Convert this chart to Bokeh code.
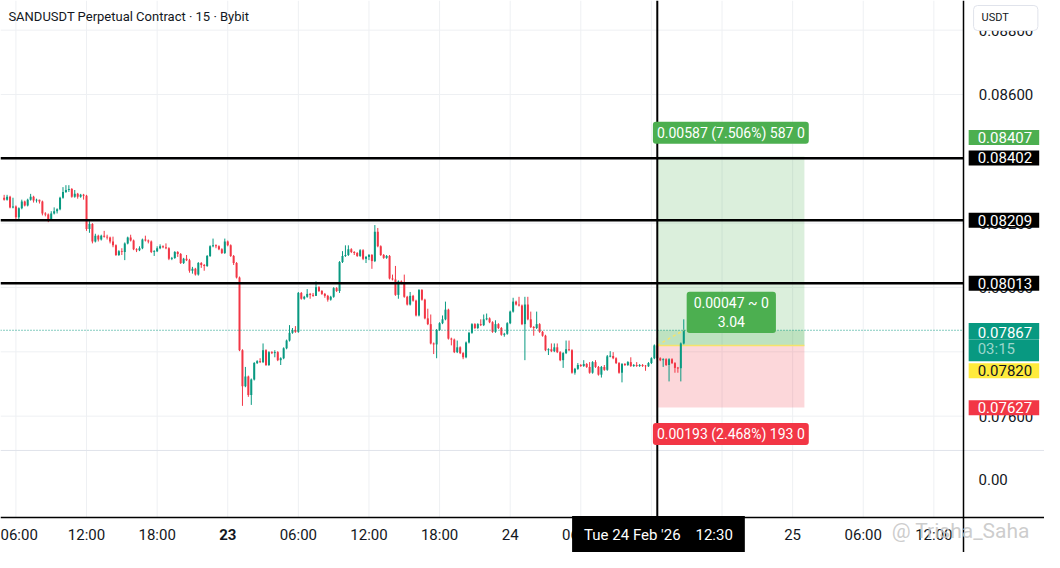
from bokeh.plotting import figure
from bokeh.models import Range1d, FixedTicker, Label, NumeralTickFormatter, LinearAxis
from bokeh.embed import file_html
from bokeh.resources import INLINE

# ---------------- data ----------------
title_text = "SANDUSDT Perpetual Contract · 15 · Bybit"
first_hour = 5.0          # 22 Feb 05:00, hours since 22 Feb 00:00
bar_hours = 0.25          # 15-minute candles
first_open = 0.08279

close = [0.08273,0.08282,0.08249,0.08252,0.08218,0.08246,0.08267,0.08255,0.08273,0.08282,
0.08270,0.08273,0.08267,0.08230,0.08227,0.08212,0.08230,0.08237,0.08243,0.08279,
0.08297,0.08303,0.08306,0.08282,0.08291,0.08282,0.08288,0.08285,0.08182,0.08197,
0.08143,0.08161,0.08149,0.08161,0.08158,0.08155,0.08143,0.08131,0.08101,0.08113,
0.08110,0.08137,0.08155,0.08146,0.08119,0.08116,0.08122,0.08149,0.08146,0.08143,
0.08110,0.08113,0.08122,0.08128,0.08125,0.08122,0.08089,0.08092,0.08110,0.08104,
0.08076,0.08089,0.08085,0.08052,0.08058,0.08040,0.08076,0.08070,0.08067,0.08098,
0.08128,0.08131,0.08128,0.08119,0.08107,0.08143,0.08131,0.08098,0.08076,0.08031,
0.07805,0.07693,0.07723,0.07666,0.07714,0.07765,0.07771,0.07768,0.07805,0.07759,
0.07799,0.07796,0.07799,0.07774,0.07780,0.07811,0.07835,0.07859,0.07868,0.07862,
0.07983,0.07965,0.07971,0.07980,0.07977,0.07974,0.08001,0.07989,0.07980,0.07974,
0.07962,0.07971,0.07998,0.07989,0.08079,0.08098,0.08101,0.08119,0.08110,0.08107,
0.08098,0.08116,0.08089,0.08095,0.08101,0.08082,0.08173,0.08128,0.08101,0.08092,
0.08098,0.08028,0.08025,0.07977,0.08019,0.08013,0.07971,0.07947,0.07974,0.07959,
0.07913,0.07992,0.07962,0.07904,0.07886,0.07826,0.07823,0.07868,0.07889,0.07901,
0.07931,0.07841,0.07838,0.07799,0.07814,0.07796,0.07783,0.07829,0.07859,0.07886,
0.07874,0.07886,0.07883,0.07901,0.07904,0.07892,0.07862,0.07886,0.07874,0.07853,
0.07856,0.07889,0.07925,0.07956,0.07947,0.07944,0.07886,0.07947,0.07901,0.07877,
0.07874,0.07886,0.07862,0.07850,0.07805,0.07808,0.07802,0.07814,0.07799,0.07774,
0.07796,0.07808,0.07805,0.07735,0.07747,0.07759,0.07756,0.07762,0.07753,0.07735,
0.07768,0.07753,0.07729,0.07753,0.07744,0.07786,0.07787,0.07780,0.07765,0.07735,
0.07762,0.07759,0.07768,0.07756,0.07759,0.07756,0.07759,0.07756,0.07755,0.07765,
0.07780,0.07820,0.07780,0.07774,0.07777,0.07759,0.07777,0.07765,0.07750,0.07749,
0.07826,0.07867]

high = [0.08288,0.08288,0.08285,0.08279,0.08255,0.08249,0.08273,0.08270,0.08276,0.08291,
0.08285,0.08276,0.08273,0.08270,0.08234,0.08230,0.08237,0.08249,0.08246,0.08282,
0.08312,0.08318,0.08318,0.08309,0.08303,0.08294,0.08291,0.08291,0.08288,0.08206,
0.08200,0.08167,0.08164,0.08164,0.08176,0.08164,0.08158,0.08158,0.08134,0.08116,
0.08122,0.08140,0.08158,0.08164,0.08149,0.08122,0.08128,0.08152,0.08161,0.08149,
0.08146,0.08116,0.08128,0.08134,0.08131,0.08137,0.08125,0.08095,0.08113,0.08113,
0.08107,0.08092,0.08101,0.08089,0.08064,0.08061,0.08079,0.08079,0.08073,0.08101,
0.08131,0.08152,0.08134,0.08131,0.08122,0.08152,0.08146,0.08134,0.08101,0.08079,
0.08034,0.07808,0.07753,0.07726,0.07717,0.07768,0.07774,0.07780,0.07826,0.07808,
0.07802,0.07802,0.07805,0.07802,0.07783,0.07814,0.07838,0.07883,0.07874,0.07880,
0.07986,0.07986,0.07974,0.07995,0.07983,0.07983,0.08019,0.08004,0.07992,0.07983,
0.07977,0.07974,0.08001,0.08001,0.08082,0.08113,0.08131,0.08131,0.08122,0.08113,
0.08110,0.08119,0.08119,0.08098,0.08104,0.08104,0.08194,0.08185,0.08131,0.08104,
0.08101,0.08101,0.08040,0.08067,0.08022,0.08022,0.08040,0.07974,0.07986,0.07977,
0.07962,0.07995,0.07995,0.07965,0.07934,0.07916,0.07829,0.07871,0.07892,0.07913,
0.07956,0.07934,0.07844,0.07841,0.07835,0.07817,0.07799,0.07832,0.07862,0.07889,
0.07889,0.07889,0.07901,0.07916,0.07919,0.07907,0.07895,0.07898,0.07889,0.07877,
0.07859,0.07892,0.07928,0.07968,0.07959,0.07971,0.07947,0.07971,0.07971,0.07925,
0.07880,0.07925,0.07889,0.07865,0.07853,0.07811,0.07826,0.07826,0.07826,0.07802,
0.07799,0.07835,0.07835,0.07808,0.07750,0.07765,0.07762,0.07774,0.07765,0.07768,
0.07771,0.07774,0.07756,0.07756,0.07759,0.07790,0.07802,0.07799,0.07783,0.07768,
0.07765,0.07765,0.07771,0.07783,0.07762,0.07768,0.07762,0.07762,0.07759,0.07768,
0.07783,0.07823,0.07844,0.07783,0.07780,0.07780,0.07780,0.07780,0.07768,0.07753,
0.07829,0.07901]

low = [0.08270,0.08270,0.08246,0.08246,0.08209,0.08212,0.08243,0.08252,0.08252,0.08270,
0.08264,0.08264,0.08261,0.08224,0.08221,0.08203,0.08209,0.08227,0.08230,0.08240,
0.08276,0.08294,0.08297,0.08279,0.08279,0.08276,0.08279,0.08273,0.08176,0.08170,
0.08137,0.08140,0.08143,0.08146,0.08155,0.08149,0.08137,0.08125,0.08098,0.08098,
0.08101,0.08085,0.08134,0.08143,0.08116,0.08110,0.08113,0.08119,0.08143,0.08137,
0.08107,0.08098,0.08110,0.08119,0.08122,0.08119,0.08085,0.08085,0.08089,0.08095,
0.08073,0.08073,0.08082,0.08046,0.08043,0.08037,0.08037,0.08061,0.08052,0.08064,
0.08095,0.08125,0.08122,0.08116,0.08104,0.08104,0.08128,0.08095,0.08070,0.08028,
0.07802,0.07632,0.07690,0.07660,0.07635,0.07711,0.07762,0.07765,0.07765,0.07756,
0.07756,0.07793,0.07783,0.07771,0.07759,0.07777,0.07808,0.07832,0.07856,0.07859,
0.07859,0.07962,0.07962,0.07968,0.07965,0.07971,0.07974,0.07986,0.07977,0.07968,
0.07956,0.07959,0.07968,0.07986,0.07983,0.08076,0.08095,0.08098,0.08107,0.08101,
0.08095,0.08095,0.08085,0.08076,0.08085,0.08058,0.08079,0.08125,0.08098,0.08089,
0.08089,0.08025,0.08022,0.07974,0.07965,0.08010,0.07968,0.07944,0.07944,0.07956,
0.07910,0.07910,0.07959,0.07901,0.07883,0.07823,0.07793,0.07780,0.07865,0.07886,
0.07898,0.07838,0.07820,0.07796,0.07796,0.07793,0.07777,0.07780,0.07826,0.07856,
0.07871,0.07871,0.07880,0.07880,0.07898,0.07889,0.07859,0.07859,0.07871,0.07850,
0.07847,0.07853,0.07886,0.07922,0.07944,0.07941,0.07883,0.07774,0.07898,0.07874,
0.07850,0.07871,0.07859,0.07847,0.07802,0.07790,0.07799,0.07799,0.07796,0.07771,
0.07750,0.07793,0.07802,0.07732,0.07729,0.07744,0.07753,0.07753,0.07750,0.07732,
0.07732,0.07750,0.07726,0.07720,0.07741,0.07741,0.07783,0.07777,0.07762,0.07732,
0.07705,0.07756,0.07756,0.07753,0.07753,0.07753,0.07753,0.07753,0.07741,0.07753,
0.07762,0.07777,0.07777,0.07771,0.07753,0.07756,0.07708,0.07762,0.07735,0.07735,
0.07708,0.07823]

drawn_levels = [0.08402, 0.08209, 0.08013]
last_price = 0.07867
countdown = "03:15"
entry_price = 0.07820
target_price = 0.08407
stop_price = 0.07627
tool_start = 60.5      # 24 Feb 12:30
tool_end = 73.0        # 25 Feb 01:00
crosshair_hour = 60.5
crosshair_date = "Tue 24 Feb '26"
crosshair_time = "12:30"
target_text = "0.00587 (7.506%) 587 0"
stop_text = "0.00193 (2.468%) 193 0"
open_pl_text = "0.00047 ~ 0\n3.04"
lower_pane_value = "0.00"
currency = "USDT"
watermark = "@ Trisha_Saha"

time_ticks = [6, 12, 18, 24, 30, 36, 42, 48, 54, 60, 66, 72, 78, 84]
time_labels = ["06:00", "12:00", "18:00", "23", "06:00", "12:00", "18:00",
               "24", "06:00", "12:00", "18:00", "25", "06:00", "12:00"]
price_ticks = [0.076, 0.078, 0.080, 0.082, 0.084, 0.086, 0.088]

# ---------------- layout ----------------
W, H = 1044, 552
REFW, REFH = 1060.0, 568.0            # reference canvas
X0, XPX = 4.69, 81.85 / 978.0         # hours at ref x=0, hours per ref px
Y1, YPX = 0.088921, 0.016072 / 532.0  # price at ref y=0, price per ref px


def rx(px):   # reference pixel x -> data x
    return X0 + px * XPX


def ry(py):   # reference pixel y -> data y
    return Y1 - py * YPX


AXX = rx(978)     # price axis position
AXY = ry(532)     # time axis position
UP, DOWN = "#089981", "#f23645"
FONT = "Roboto"
TXT = "#131722"
GRID = "#eef0f3"

p = figure(width=W, height=H, output_backend="svg", toolbar_location=None,
           x_range=Range1d(rx(0), rx(REFW)), y_range=Range1d(ry(REFH), ry(0)),
           x_axis_type=None, y_axis_type=None,
           min_border=0, min_border_left=0, min_border_right=0,
           min_border_top=0, min_border_bottom=0)
p.outline_line_color = None
p.background_fill_color = "white"
p.border_fill_color = "white"

# grid lines (pane only)
p.segment(x0=time_ticks, x1=time_ticks, y0=[AXY] * len(time_ticks), y1=[ry(0)] * len(time_ticks),
          line_color=GRID, line_width=1)
p.segment(x0=[rx(0)] * len(price_ticks), x1=[AXX] * len(price_ticks), y0=price_ticks, y1=price_ticks,
          line_color=GRID, line_width=1)
# lower pane separator
p.segment(x0=[rx(0)], x1=[rx(REFW)], y0=[ry(463)], y1=[ry(463)], line_color="#e0e3eb", line_width=1)

# axes drawn at fixed locations
xa = LinearAxis(fixed_location=AXY)
ya = LinearAxis(fixed_location=AXX)
p.add_layout(xa, "below")
p.add_layout(ya, "right")
xa.ticker = FixedTicker(ticks=time_ticks)
ov = {t: l for t, l in zip(time_ticks, time_labels)}
ov[24] = ""
xa.major_label_overrides = ov
ya.ticker = FixedTicker(ticks=price_ticks)
ya.formatter = NumeralTickFormatter(format="0.00000")
for ax in (xa, ya):
    ax.axis_line_color = "black"
    ax.axis_line_width = 1.5
    ax.major_tick_line_color = None
    ax.minor_tick_line_color = None
    ax.major_tick_out = 0
    ax.major_tick_in = 0
    ax.major_label_text_font = FONT
    ax.major_label_text_font_size = "15px"
    ax.major_label_text_color = TXT
xa.major_label_standoff = 8
ya.major_label_standoff = 15

# position tool
p.quad(left=[tool_start], right=[tool_end], bottom=[entry_price], top=[target_price],
       fill_color="#4caf50", fill_alpha=0.2, line_color=None)
p.quad(left=[tool_start], right=[tool_end], bottom=[entry_price], top=[last_price],
       fill_color="#4caf50", fill_alpha=0.2, line_color=None)
p.quad(left=[tool_start], right=[tool_end], bottom=[stop_price], top=[entry_price],
       fill_color="#f23645", fill_alpha=0.2, line_color=None)
p.segment(x0=[tool_start], x1=[tool_end], y0=[entry_price], y1=[entry_price],
          line_color="#f5e36a", line_width=1.5)

# candles
n = len(close)
t = [first_hour + bar_hours * i for i in range(n)]
opn = [first_open] + close[:-1]
cols = [UP if c >= o else DOWN for o, c in zip(opn, close)]
tops = [max(o, c) for o, c in zip(opn, close)]
bots = [min(o, c) for o, c in zip(opn, close)]
tops = [tp if tp - b > 0.00002 else tp + 0.00001 for tp, b in zip(tops, bots)]
bots = [b if tp - b > 0.00002 else b - 0.00001 for tp, b in zip(tops, bots)]
p.segment(x0=t, y0=low, x1=t, y1=high, line_color=cols, line_width=1)
p.vbar(x=t, width=0.17, top=tops, bottom=bots, fill_color=cols, line_color=None)

# trade path
p.line([tool_start, t[-1]], [entry_price, last_price], line_color="#f5e36a",
       line_width=1.5, line_dash="3 3")

# drawn levels, last price, crosshair
nl = len(drawn_levels)
p.segment(x0=[rx(0)] * nl, x1=[AXX] * nl, y0=drawn_levels, y1=drawn_levels,
          line_color="black", line_width=2.5)
p.segment(x0=[rx(0)], x1=[AXX], y0=[last_price], y1=[last_price],
          line_color=UP, line_width=1, line_dash="1 2")
p.segment(x0=[crosshair_hour], x1=[crosshair_hour], y0=[AXY], y1=[ry(0)],
          line_color="black", line_width=2)


def tag(text, x, y, bg, fg="white", align="left", size="15px", pad=(9, 7, 2, 2),
        radius=0, style="normal", border=None, alpha=1.0):
    lab = Label(x=x, y=y, text=text, text_align=align, text_baseline="middle",
                text_font=FONT, text_font_size=size, text_color=fg, text_font_style=style,
                text_alpha=alpha,
                background_fill_color=bg, border_line_color=border,
                padding=dict(left=pad[0], right=pad[1], top=pad[2], bottom=pad[3]),
                border_radius=radius, level="overlay")
    p.add_layout(lab)


# price-axis tags (box left edge at the axis)
TX = rx(983)
tag(f"{target_price:.5f}", TX, ry(141), "#4caf50")
tag(f"{drawn_levels[0]:.5f}", TX, ry(162), "black")
tag(f"{drawn_levels[1]:.5f}", TX, ry(226), "black")
tag(f"{drawn_levels[2]:.5f}", TX, ry(291), "black")
tag(f"{last_price:.5f}", TX, ry(340), UP, pad=(9, 7, 4, 1))
tag(countdown, TX, ry(360), UP, fg="#9cd6cc", pad=(9, 24, 1, 3))
tag(f"{entry_price:.5f}", TX, ry(381), "#ffeb3b", fg=TXT)
tag(f"{stop_price:.5f}", TX, ry(419), "#f23645")
tag(lower_pane_value, rx(993), ry(493), None, fg=TXT, pad=(0, 0, 0, 0))
tag(currency, rx(988), ry(18), "white", fg=TXT, size="11px", pad=(8, 29, 6, 6),
    radius=4, border="#e0e3eb")

# position tool labels
mid = (tool_start + tool_end) / 2
tag(target_text, mid, ry(136), "#4caf50", align="center", size="14px", pad=(4, 4, 3, 3), radius=3)
tag(stop_text, mid, ry(446), "#f23645", align="center", size="14px", pad=(4, 4, 3, 3), radius=3)
tag(open_pl_text, rx(742), ry(321), "#4caf50", align="center", size="14px", pad=(7, 7, 3, 3), radius=3)

# time axis extras: crosshair time box
tag(crosshair_date + "\u00a0\u00a0\u00a0\u00a0" + crosshair_time, crosshair_hour + 0.1, ry(550),
    "black", align="center", pad=(12, 12, 10, 10))
tag(time_labels[3], 24, ry(549), None, fg=TXT, align="center", pad=(0, 0, 0, 0), style="bold")

# title and watermark
tag(title_text, rx(8), ry(16), None, fg=TXT, size="13px", pad=(0, 0, 0, 0))
tag(watermark, rx(975), ry(546), None, fg="#c4c4c4", align="center", size="21px",
    pad=(0, 0, 0, 0), alpha=0.85)

open("out.html", "w").write(file_html(p, INLINE))
